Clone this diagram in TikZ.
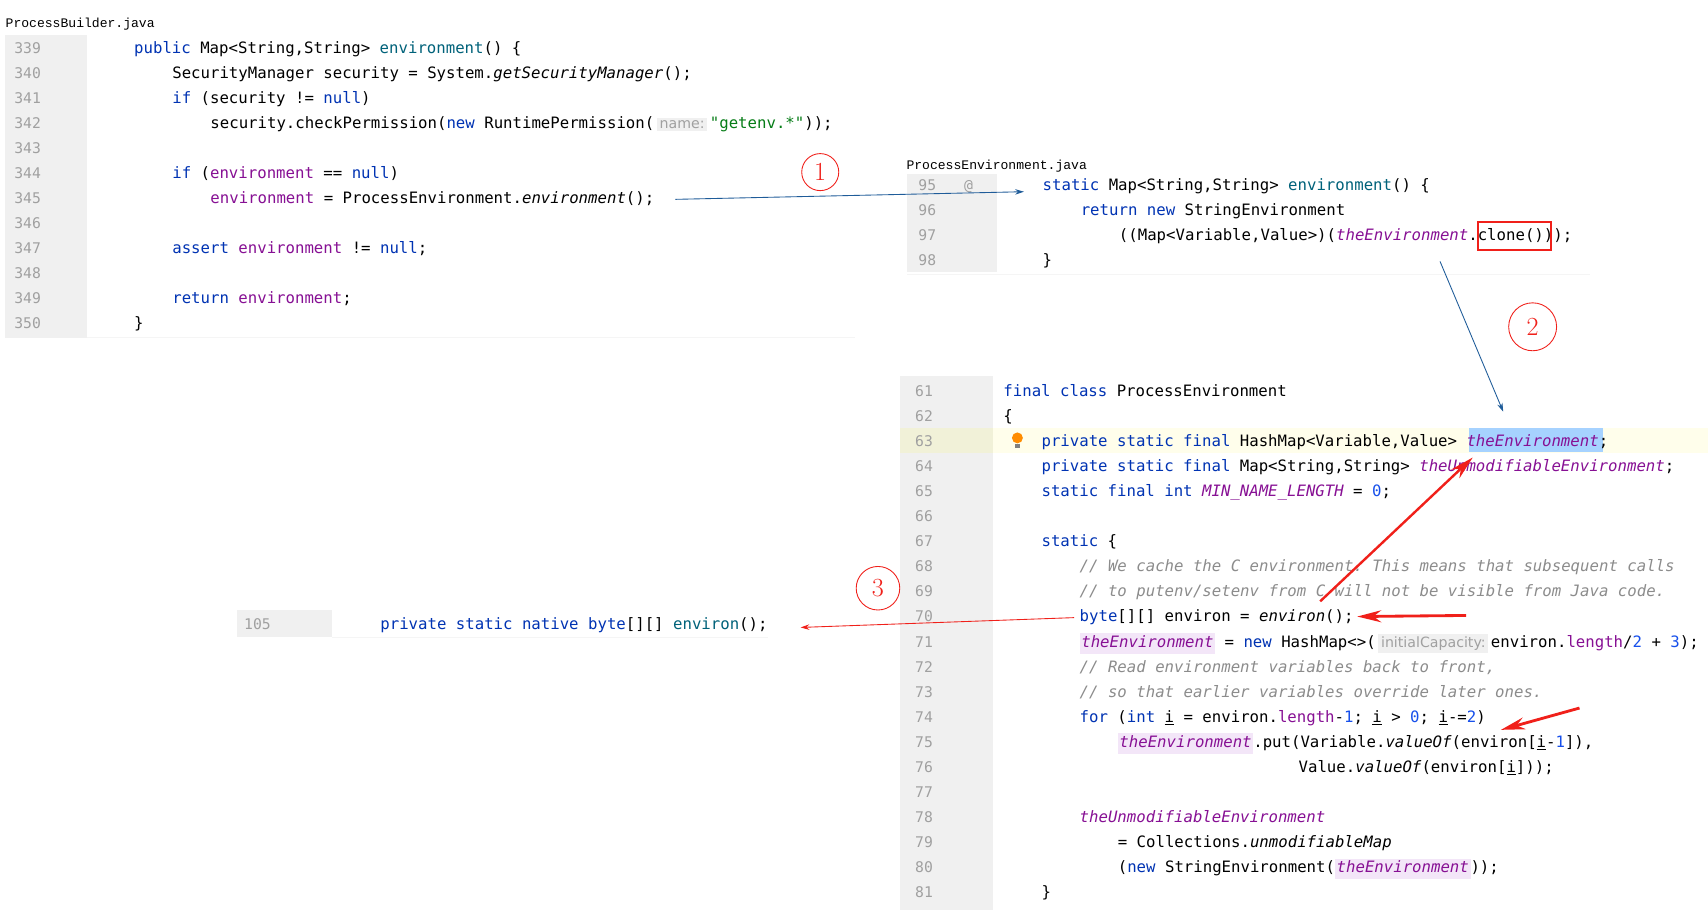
\documentclass[tikz,border=0pt]{standalone}
\usepackage{fontspec}
\setmonofont{DejaVu Sans Mono}
\newfontfamily\hintfont{DejaVu Sans}
\newfontfamily\hdrfont{Liberation Mono}
\usetikzlibrary{arrows.meta}
\definecolor{kw}{HTML}{0033B3}
\definecolor{fd}{HTML}{871094}
\definecolor{mth}{HTML}{00627A}
\definecolor{cm}{HTML}{8C8C8C}
\definecolor{st}{HTML}{067D17}
\definecolor{nm}{HTML}{1750EB}
\definecolor{ln}{HTML}{A0A0A0}
\definecolor{gut}{HTML}{F0F0F0}
\definecolor{hlp}{HTML}{F3E6F8}
\definecolor{hlb}{HTML}{A6D2FF}
\definecolor{arblue}{HTML}{1F5C99}
\definecolor{arred}{HTML}{F0201A}
\newcommand{\K}[1]{\textcolor{kw}{#1}}
\newcommand{\F}[1]{\textcolor{fd}{#1}}
\newcommand{\FI}[1]{\textcolor{fd}{\itshape #1}}
\newcommand{\M}[1]{\textcolor{mth}{#1}}
\newcommand{\N}[1]{\textcolor{nm}{#1}}
\newcommand{\Hp}[1]{{\fboxsep=1.5pt\colorbox{hlp}{\strut#1}}}
\newcommand{\Hint}[1]{{\fboxsep=2.5pt\,\colorbox{gut}{\hintfont\fontsize{13pt}{14pt}\selectfont\textcolor{ln}{#1}}\,}}
\begin{document}
\begin{tikzpicture}[x=1pt,y=-1pt,
  code/.style={anchor=base west,inner sep=0pt,font=\ttfamily\fontsize{14.4pt}{16pt}\selectfont},
  lnum/.style={anchor=base west,inner sep=0pt,text=ln,font=\ttfamily\fontsize{13.5pt}{16pt}\selectfont},
  hdr/.style={anchor=base west,inner sep=0pt,font=\hdrfont\fontsize{12pt}{14pt}\selectfont},
  circ/.style={draw=arred,circle,line width=0.8pt,minimum size=#1,inner sep=0pt,text=arred,font=\fontsize{24pt}{24pt}\selectfont},
  thin/.style={-{Stealth[length=8pt,width=5pt]},line width=0.8pt},
  fat/.style={-{Stealth[length=22pt,width=11pt]},line width=2.6pt,arred}]
\useasboundingbox (0,0) rectangle (1568,838);
\fill[white] (0,0) rectangle (1568,838);
% ---------- panel 1
\node[hdr] (h1) at (5,25) {ProcessBuilder.java};
\fill[gut] (5,32) rectangle (80,310);
\draw[gut!70] (80,310) -- (785,310);
\foreach \n [count=\i from 0] in {339,...,350}
  \node[lnum] (n\n) at (13,{49+23*\i}) {\n};
\node[code] (l339) at (123,49) {\K{public} Map<String,String> \M{environment}() \{};
\node[code] (l340) at (158,72) {SecurityManager security = System.\textit{getSecurityManager}();};
\node[code] (l341) at (158,95) {\K{if} (security != \K{null})};
\node[code] (l342) at (193,118) {security.checkPermission(\K{new} RuntimePermission(\Hint{name:}\textcolor{st}{"getenv.*"}));};
\node[code] (l344) at (158,164) {\K{if} (\F{environment} == \K{null})};
\node[code] (l345) at (193,187) {\F{environment} = ProcessEnvironment.\textit{environment}();};
\node[code] (l347) at (158,233) {\K{assert} \F{environment} != \K{null};};
\node[code] (l349) at (158,279) {\K{return} \F{environment};};
\node[code] (l350) at (123,302) {\}};
% ---------- panel 2
\node[hdr] (h2) at (832,156) {ProcessEnvironment.java};
\fill[gut] (833,160) rectangle (915,250);
\draw[gut!70] (833,252) -- (1460,252);
\foreach \n [count=\i from 0] in {95,...,98}
  \node[lnum] (n\n) at (843,{175+23*\i}) {\n};
\node[lnum] (at) at (885,175) {@};
\node[code] (l95) at (957,175) {\K{static} Map<String,String> \M{environment}() \{};
\node[code] (l96) at (992,198) {\K{return new} StringEnvironment};
\node[code] (l97) at (1027,221) {((Map<Variable,Value>)(\FI{theEnvironment}.clone()));};
\node[code] (l98) at (957,244) {\}};
\node[draw=arred,line width=1.6pt,minimum width=67pt,minimum height=26pt,inner sep=0pt] (clonebox) at (1390.5,216.5) {};
% ---------- panel 3
\fill[gut] (826,345) rectangle (912,835);
\fill[yellow!8] (912,393) rectangle (1568,416);
\fill[gut!90!yellow] (826,393) rectangle (912,416);
\foreach \n [count=\i from 0] in {61,...,81}
  \node[lnum] (n\n) at (840,{364+23*\i}) {\n};
\fill[orange!90!yellow] (934,402) circle (5pt);
\fill[gray] (932,408) rectangle (936,411);
\fill[hlb] (1349,393) rectangle (1472,415);
\node[code] (l61) at (921,364) {\K{final class} ProcessEnvironment};
\node[code] (l62) at (921,387) {\{};
\node[code] (l63) at (956,410) {\K{private static final} HashMap<Variable,Value> \FI{theEnvironment};};
\node[code] (l64) at (956,433) {\K{private static final} Map<String,String> \FI{theUnmodifiableEnvironment};};
\node[code] (l65) at (956,456) {\K{static final int} \FI{MIN\_NAME\_LENGTH} = \N{0};};
\node[code] (l67) at (956,502) {\K{static} \{};
\node[code,text=cm] (l68) at (991,525) {\itshape // We cache the C environment.  This means that subsequent calls};
\node[code,text=cm] (l69) at (991,548) {\itshape // to putenv/setenv from C will not be visible from Java code.};
\node[code] (l70) at (991,571) {\K{byte}[][] environ = \textit{environ}();};
\node[code] (l71) at (991,594) {\Hp{\FI{theEnvironment}} = \K{new} HashMap<>(\Hint{initialCapacity:}environ.\F{length}/\N{2} + \N{3});};
\node[code,text=cm] (l72) at (991,617) {\itshape // Read environment variables back to front,};
\node[code,text=cm] (l73) at (991,640) {\itshape // so that earlier variables override later ones.};
\node[code] (l74) at (991,663) {\K{for} (\K{int} \underline{i} = environ.\F{length}-\N{1}; \underline{i} > \N{0}; \underline{i}-=\N{2})};
\node[code] (l75) at (1026,686) {\Hp{\FI{theEnvironment}}.put(Variable.\textit{valueOf}(environ[\underline{i}-\N{1}]),};
\node[code] (l76) at (1192,709) {Value.\textit{valueOf}(environ[\underline{i}]));};
\node[code] (l78) at (991,755) {\FI{theUnmodifiableEnvironment}};
\node[code] (l79) at (1026,778) {= Collections.\textit{unmodifiableMap}};
\node[code] (l80) at (1026,801) {(\K{new} StringEnvironment(\Hp{\FI{theEnvironment}}));};
\node[code] (l81) at (956,824) {\}};
% ---------- panel 4
\fill[gut] (218,560) rectangle (305,585);
\draw[gut!70] (305,585) -- (705,585);
\node[lnum] (n105) at (224,578) {105};
\node[code] (l105) at (349,578) {\K{private static native byte}[][] \M{environ}();};
% ---------- markers
\node[circ=34pt] (c1) at (753,158) {1};
\node[circ=44pt] (c2) at (1407,300) {2};
\node[circ=40pt] (c3) at (806,540) {3};
% ---------- connectors
\coordinate (a1s) at (620,183);
\coordinate (a1e) at (940,176);
\draw[thin,arblue] (a1s) -- (a1e);
\coordinate (a2s) at (1322,240);
\coordinate (a2e) at (1380,378);
\draw[thin,arblue] (a2s) -- (a2e);
\coordinate (a3s) at (986,567);
\coordinate (a3e) at (735,576);
\draw[thin,arred] (a3s) -- (a3e);
\coordinate (r1s) at (1212,552);
\coordinate (r1e) at (1352,420);
\draw[fat,line width=2.2pt] (r1s) -- (r1e);
\coordinate (r2s) at (1346,565);
\coordinate (r2e) at (1246,566);
\draw[fat] (r2s) -- (r2e);
\coordinate (r3s) at (1450,650);
\coordinate (r3e) at (1378,670);
\draw[fat] (r3s) -- (r3e);
\end{tikzpicture}
\end{document}
